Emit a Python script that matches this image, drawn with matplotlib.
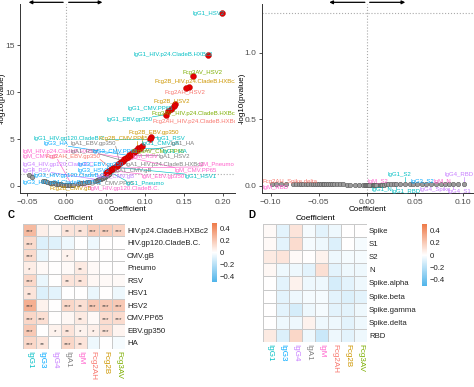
import numpy as np
import matplotlib
matplotlib.use('Agg')
import matplotlib.pyplot as plt
from matplotlib.colors import LinearSegmentedColormap, Normalize
from matplotlib.colorbar import ColorbarBase

plt.rcParams['font.family'] = ['Liberation Sans', 'DejaVu Sans']

# ---------------------------------------------------------------------------
# Data
# ---------------------------------------------------------------------------
ISOTYPES = ['IgG1', 'IgG3', 'IgG4', 'IgA1', 'IgM', 'Fcg2AH', 'Fcg2B', 'Fcg3AV']
ISO_COLORS = ['#00BFC4', '#00A9FF', '#C77CFF', '#7F7F7F', '#FF61CC',
              '#F8766D', '#CD9600', '#7CAE00']

ANTIGENS_C = ['HIV.p24.CladeB.HXBc2', 'HIV.gp120.CladeB.C.', 'CMV.gB', 'Pneumo',
              'RSV', 'HSV1', 'HSV2', 'CMV.PP65', 'EBV.gp350', 'HA']
ANTIGENS_D = ['Spike', 'S1', 'S2', 'N', 'Spike.alpha', 'Spike.beta',
              'Spike.gamma', 'Spike.delta', 'RBD']

# panel A: significant features (red)
sig_names = ['IgG1_HSV2', 'IgG1_HIV.p24.CladeB.HXBc2', 'Fcg3AV_HSV2',
             'Fcg2B_HIV.p24.CladeB.HXBc2', 'Fcg2AH_HSV2', 'Fcg2B_HSV2',
             'Fcg3AV_HIV.p24.CladeB.HXBc2', 'IgG1_CMV.PP65',
             'Fcg2AH_HIV.p24.CladeB.HXBc2', 'IgG1_EBV.gp350', 'IgG1_RSV',
             'IgG1_HIV.gp120.CladeB.C.',
             'IgG4_EBV.gp350', 'IgA1_CMV.gB', 'IgG1_Pneumo', 'IgM_EBV.gp350',
             'Fcg2AH_EBV.gp350', 'IgM_Pneumo', 'IgG1_HSV1', 'IgM_HA', 'IgM_HSV2',
             'IgA1_EBV.gp350', 'IgM_RSV', 'IgA1_RSV', 'IgA1_HIV.p24.CladeB.HXBc2',
             'IgM_HIV.p24.CladeB.HXBc2', 'IgM_CMV.PP65', 'IgG3_HA', 'IgA1_HSV2',
             'IgA1_HA', 'IgG3_CMV.PP65', 'Fcg3AV_CMV.PP65', 'Fcg2B_CMV.PP65',
             'IgG1_HA', 'IgG1_CMV.gB', 'Fcg2B_EBV.gp350']
sig_coef = [0.199, 0.180, 0.162, 0.157, 0.152, 0.139, 0.137, 0.133, 0.130, 0.127,
            0.108, 0.107,
            0.050, 0.052, 0.054, 0.056, 0.058, 0.060, 0.062, 0.064, 0.066, 0.068,
            0.070, 0.072, 0.074, 0.076, 0.078, 0.080, 0.082, 0.084, 0.086, 0.088,
            0.090, 0.092, 0.094, 0.096]
sig_nlp = [18.4, 14.0, 11.7, 10.6, 10.4, 8.7, 8.5, 8.2, 8.0, 7.6,
           5.2, 5.0,
           1.35, 1.45, 1.55, 1.65, 1.8, 1.9, 2.0, 2.15, 2.3, 2.4,
           2.55, 2.7, 2.85, 2.95, 3.1, 3.25, 3.35, 3.5, 3.6, 3.75,
           3.85, 4.0, 4.1, 4.3]

# panel A: non-significant features (grey)
ns_names = ['IgG3_HIV.gp120.CladeB.C.', 'IgG4_HIV.gp120.CladeB.C.', 'IgG3_HSV1',
            'IgG4_HSV1', 'Fcg2AH_HIV.gp120.CladeB.C.', 'IgA1_HIV.gp120.CladeB.C.',
            'IgG3_CMV.gB', 'Fcg3AV_HSV1', 'IgG3_RSV', 'Fcg2AH_HSV1', 'Fcg2AH_HA',
            'IgG4_HSV2', 'Fcg3AV_HA', 'IgG3_HIV.p24.CladeB.HXBc2',
            'IgG4_HIV.p24.CladeB.HXBc2', 'IgG4_CMV.gB', 'IgM_HIV.gp120.CladeB.C.',
            'Fcg2B_HIV.gp120.CladeB.C.', 'Fcg3AV_HIV.gp120.CladeB.C.', 'IgM_CMV.gB',
            'Fcg2AH_CMV.gB', 'Fcg2B_CMV.gB', 'Fcg3AV_CMV.gB', 'IgG3_Pneumo',
            'IgG4_Pneumo', 'IgA1_Pneumo', 'Fcg2AH_Pneumo', 'Fcg2B_Pneumo',
            'Fcg3AV_Pneumo', 'IgG4_RSV', 'Fcg2AH_RSV', 'Fcg2B_RSV', 'Fcg3AV_RSV',
            'IgA1_HSV1', 'IgM_HSV1', 'Fcg2B_HSV1', 'IgG3_HSV2', 'IgG4_CMV.PP65',
            'IgA1_CMV.PP65', 'Fcg2AH_CMV.PP65', 'IgG3_EBV.gp350',
            'Fcg3AV_EBV.gp350', 'IgG4_HA', 'Fcg2B_HA']
ns_coef = [-0.047, -0.044, -0.030, -0.027, -0.024, -0.021, -0.019, -0.017, -0.015,
           -0.013, -0.011, -0.009, -0.007, -0.005, -0.003, -0.001, 0.001, 0.003,
           0.005, 0.007, 0.009, 0.015, 0.018, 0.020, 0.023, 0.026, 0.029, 0.037,
           0.039, 0.041, 0.042, 0.043, 0.044, 0.045, 0.046, 0.047, 0.048, 0.049,
           0.050, 0.051, 0.052, 0.053, 0.054, 0.055]
ns_nlp = [1.15, 0.95, 0.55, 0.48, 0.42, 0.36, 0.33, 0.30, 0.27, 0.24, 0.21, 0.18,
          0.16, 0.14, 0.12, 0.10, 0.09, 0.10, 0.11, 0.12, 0.14, 0.24, 0.28, 0.30,
          0.34, 0.38, 0.43, 0.55, 0.60, 0.66, 0.70, 0.74, 0.78, 0.82, 0.86, 0.90,
          0.95, 1.00, 1.05, 1.10, 1.15, 1.20, 1.25, 1.28]

# panel A label placement (left edge x, y)
lab_a_names = ['IgG1_HSV2', 'IgG1_HIV.p24.CladeB.HXBc2', 'Fcg3AV_HSV2',
               'Fcg2B_HIV.p24.CladeB.HXBc2', 'Fcg2AH_HSV2', 'Fcg2B_HSV2',
               'IgG1_CMV.PP65', 'Fcg3AV_HIV.p24.CladeB.HXBc2',
               'Fcg2AH_HIV.p24.CladeB.HXBc2', 'IgG1_EBV.gp350', 'Fcg2B_EBV.gp350',
               'IgG1_HIV.gp120.CladeB.C.', 'Fcg2B_CMV.PP65', 'IgG1_RSV', 'IgG3_HA',
               'IgA1_EBV.gp350', 'IgG1_CMV.gB', 'IgA1_HA',
               'IgM_HIV.p24.CladeB.HXBc2', 'IgA1_RSV', 'IgG3_CMV.PP65',
               'Fcg3AV_CMV.PP65', 'IgG1_HA', 'IgM_CMV.gB', 'Fcg2AH_EBV.gp350',
               'IgM_RSV', 'IgA1_HSV2', 'IgG4_HIV.gp120.CladeB.C.', 'IgG3_EBV.gp350',
               'IgA1_HIV.p24.CladeB.HXBc2', 'IgM_Pneumo', 'IgG4_RSV', 'IgG3_HSV2',
               'IgA1_CMV.gB', 'IgM_CMV.PP65', 'IgG3_HIV.gp120.CladeB.C.',
               'IgG4_CMV.gB', 'IgM_EBV.gp350', 'IgG1_HSV1',
               'IgG3_HIV.p24.CladeB.HXBc2', 'IgA1_CMV.PP65', 'IgG1_Pneumo',
               'Fcg2B_CMV.gB', 'IgM_HIV.gp120.CladeB.C.']
lab_a_x = [0.161, 0.086, 0.148, 0.113, 0.125, 0.111, 0.078, 0.108, 0.110, 0.051,
           0.079, -0.042, 0.041, 0.115, -0.029, 0.005, 0.096, 0.133, -0.056, 0.005,
           0.034, 0.083, 0.123, -0.056, -0.027, 0.085, 0.117, -0.056, 0.014, 0.075,
           0.169, -0.056, 0.014, 0.062, 0.138, -0.042, 0.039, 0.096, 0.151, -0.056,
           0.030, 0.076, -0.022, 0.030]
lab_a_y = [18.4, 14.0, 12.1, 11.1, 10.0, 9.0, 8.3, 7.7, 6.9, 7.1,
           5.7, 5.1, 5.1, 5.1, 4.5, 4.5, 4.5, 4.5, 3.7, 3.7,
           3.7, 3.7, 3.7, 3.1, 3.1, 3.1, 3.1, 2.3, 2.3, 2.3,
           2.3, 1.7, 1.7, 1.7, 1.7, 1.1, 1.0, 1.0, 1.0, 0.4,
           0.3, 0.3, -0.3, -0.3]

# panel B: labelled points and the rest
cov_lab_names = ['Fcg2AH_Spike.delta', 'IgM_RBD', 'IgM_S2', 'IgG1_S2', 'IgG3_S2',
                 'IgM_N', 'IgG4_RBD', 'IgG1_N', 'IgG1_RBD', 'IgG4_Spike', 'IgG4_S1']
cov_lab_coef = [-0.084, -0.099, 0.002, 0.040, 0.052, 0.072, 0.101, 0.010, 0.030,
                0.062, 0.090]
cov_lab_nlp = [0.016, 0.018, 0.008, 0.014, 0.015, 0.016, 0.018, 0.009, 0.012,
               0.015, 0.017]
lab_b_x = [-0.108, -0.108, 0.001, 0.022, 0.045, 0.069, 0.081, 0.005, 0.026, 0.055,
           0.084]
lab_b_y = [0.030, -0.015, 0.030, 0.083, 0.030, 0.030, 0.083, -0.023, -0.045,
           -0.023, -0.045]
cov_coef = [-0.089, -0.077, -0.074, -0.071, -0.068, -0.066, -0.063, -0.061, -0.058,
            -0.056, -0.054, -0.052, -0.050, -0.048, -0.046, -0.044, -0.042, -0.040,
            -0.038, -0.036, -0.034, -0.031, -0.028, -0.025, -0.021, -0.017, -0.012,
            -0.008, -0.004, -0.002, -0.001, 0.000, 0.001, 0.003, 0.004, 0.005,
            0.006, 0.007, 0.008, 0.009, 0.011, 0.012, 0.013, 0.014, 0.015, 0.016,
            0.018, 0.020, 0.022, 0.025, 0.028, 0.035, 0.045, 0.048, 0.057, 0.067,
            0.077, 0.081, 0.085, 0.095, -0.094]
cov_nlp = [0.017, 0.016, 0.016, 0.016, 0.015, 0.015, 0.015, 0.015, 0.015,
           0.014, 0.014, 0.014, 0.014, 0.014, 0.013, 0.013, 0.013, 0.013,
           0.013, 0.012, 0.012, 0.012, 0.011, 0.011, 0.010, 0.010, 0.009,
           0.008, 0.007, 0.007, 0.006, 0.006, 0.006, 0.007, 0.007, 0.007,
           0.007, 0.008, 0.008, 0.008, 0.009, 0.009, 0.009, 0.009, 0.010, 0.010,
           0.010, 0.011, 0.011, 0.012, 0.012, 0.013, 0.014, 0.015, 0.015, 0.016,
           0.016, 0.017, 0.017, 0.018, 0.018]

# panel C: coefficient heatmap + significance
coef_c = [
    [0.26, 0.06, 0.02, 0.10, 0.10, 0.18, 0.18, 0.16],
    [0.14, -0.10, -0.09, -0.05, 0.00, -0.05, 0.00, 0.00],
    [0.14, -0.06, 0.00, 0.05, 0.00, 0.00, 0.00, 0.00],
    [0.07, 0.02, 0.00, 0.02, 0.08, 0.02, 0.00, 0.00],
    [0.15, -0.06, 0.00, 0.10, 0.10, 0.03, 0.02, 0.02],
    [0.10, -0.10, -0.08, 0.00, 0.00, -0.06, 0.00, -0.05],
    [0.30, 0.05, 0.00, 0.15, 0.12, 0.20, 0.20, 0.20],
    [0.15, 0.12, 0.00, 0.03, 0.08, 0.02, 0.13, 0.13],
    [0.20, 0.00, 0.05, 0.10, 0.05, 0.06, 0.12, 0.04],
    [0.15, 0.10, 0.00, 0.15, 0.10, -0.05, 0.00, -0.03],
]
stars_c = [
    ['***', '', '', '**', '**', '***', '***', '***'],
    ['***', '', '', '', '', '', '', ''],
    ['***', '', '', '*', '', '', '', ''],
    ['*', '', '', '', '**', '', '', ''],
    ['***', '', '', '**', '**', '', '', ''],
    ['**', '', '', '', '', '', '', ''],
    ['***', '', '', '***', '**', '***', '***', '***'],
    ['***', '***', '', '', '**', '', '***', '***'],
    ['***', '', '*', '**', '*', '*', '***', ''],
    ['***', '**', '', '***', '**', '', '', ''],
]

# panel D: coefficient heatmap
coef_d = [
    [0.02, -0.08, 0.10, -0.03, -0.08, -0.05, 0.00, 0.00],
    [0.02, -0.08, 0.13, -0.03, -0.05, -0.10, 0.00, -0.03],
    [0.08, 0.10, 0.02, 0.00, 0.05, -0.05, -0.03, -0.03],
    [0.03, -0.05, -0.05, -0.08, 0.12, -0.08, -0.05, -0.05],
    [0.00, -0.08, 0.05, -0.05, -0.05, -0.12, -0.08, -0.05],
    [0.00, -0.08, -0.05, -0.03, -0.03, -0.08, -0.10, -0.08],
    [0.00, -0.08, -0.12, -0.05, -0.03, -0.08, -0.08, -0.05],
    [0.00, -0.05, -0.05, 0.05, -0.05, -0.05, -0.08, -0.05],
    [0.08, -0.10, 0.15, -0.05, -0.15, -0.05, -0.08, -0.05],
]

# ---------------------------------------------------------------------------
# Helpers
# ---------------------------------------------------------------------------
CMAP = LinearSegmentedColormap.from_list('bwo', ['#4FB4EA', '#FFFFFF', '#EE7A48'])
NORM = Normalize(vmin=-0.5, vmax=0.5)
AX_COL = '#333333'
TICK_COL = '#4d4d4d'


def iso_color(name):
    return ISO_COLORS[ISOTYPES.index(name.split('_')[0])]


def style_volcano(ax, ylab_x):
    for s in ['top', 'right']:
        ax.spines[s].set_visible(False)
    for s in ['left', 'bottom']:
        ax.spines[s].set_color(AX_COL)
        ax.spines[s].set_linewidth(0.7)
    ax.tick_params(labelsize=6, colors=AX_COL, labelcolor=TICK_COL, length=2.5,
                   width=0.6, pad=1.5)
    ax.set_xlabel('Coefficient', fontsize=5.8, labelpad=0.5)
    ax.set_ylabel('-log10(pvalue)', fontsize=5.8)
    ax.yaxis.set_label_coords(ylab_x, 0.5)


def leader_lines(fig, ax, texts, pts):
    renderer = fig.canvas.get_renderer()
    inv = ax.transData.inverted()
    for txt, (px, py) in zip(texts, pts):
        bb = txt.get_window_extent(renderer)
        tx, ty = ax.transData.transform((px, py))
        cx = min(max(tx, bb.x0), bb.x1)
        cy = min(max(ty, bb.y0), bb.y1)
        if np.hypot(tx - cx, ty - cy) < 3:
            continue
        sx, sy = inv.transform((cx, cy))
        ax.plot([sx, px], [sy, py], color=txt.get_color(), lw=0.45, zorder=1.5)


def top_arrows(ax, left_span, right_span):
    for x0, x1 in (left_span, right_span):
        ax.annotate('', xy=(x1, 0.994), xytext=(x0, 0.994),
                    xycoords=('data', 'figure fraction'),
                    textcoords=('data', 'figure fraction'),
                    arrowprops=dict(arrowstyle='-|>', color='black', lw=0.9,
                                    mutation_scale=5, shrinkA=0, shrinkB=0),
                    annotation_clip=False)


def heatmap(fig, rect, values, rows, title, label, stars=None):
    ax = fig.add_axes(rect)
    vals = np.array(values)
    nr, nc = vals.shape
    ax.pcolormesh(np.arange(nc + 1), np.arange(nr + 1), vals, cmap=CMAP, norm=NORM,
                  edgecolors='#c9c9c9', linewidth=0.6)
    ax.set_xlim(0, nc)
    ax.set_ylim(nr, 0)
    if stars is not None:
        for i in range(nr):
            for j in range(nc):
                if stars[i][j]:
                    ax.text(j + 0.5, i + 0.62, stars[i][j], ha='center', va='center',
                            fontsize=4.6, color='#444444')
    ax.yaxis.tick_right()
    ax.set_yticks(np.arange(nr) + 0.5)
    ax.set_yticklabels(rows, fontsize=5.6, color='#222222')
    ax.set_xticks(np.arange(nc) + 0.5)
    ax.set_xticklabels(ISOTYPES, rotation=270, fontsize=5.8)
    for tl, c in zip(ax.get_xticklabels(), ISO_COLORS):
        tl.set_color(c)
    ax.tick_params(length=0, pad=1.5)
    for s in ax.spines.values():
        s.set_visible(False)
    ax.set_title(title, fontsize=6, pad=3)
    fig.text(rect[0] - 0.024, rect[1] + rect[3] + 0.022, label, fontsize=7,
             fontweight='bold', ha='center', va='center')
    return ax


def colorbar(fig, rect):
    cax = fig.add_axes(rect)
    cb = ColorbarBase(cax, cmap=CMAP, norm=NORM, ticks=[0.4, 0.2, 0, -0.2, -0.4])
    cb.outline.set_visible(False)
    cb.set_ticklabels(['0.4', '0.2', '0', '\u22120.2', '\u22120.4'])
    cax.tick_params(labelsize=5.6, length=0, pad=2, labelcolor='#222222')
    return cb


# ---------------------------------------------------------------------------
# Figure
# ---------------------------------------------------------------------------
fig = plt.figure(figsize=(4.74, 3.87), dpi=100)

# ---- Panel A: volcano (known antigens) -----------------------------------
axa = fig.add_axes([0.0422, 0.5013, 0.4536, 0.4884])
axa.set_xlim(-0.059, 0.215)
axa.set_ylim(-0.75, 19.4)
axa.axvline(0, color='#aaaaaa', ls=':', lw=0.8, zorder=0)
axa.axhline(-np.log10(0.05), color='#aaaaaa', ls=':', lw=0.8, zorder=0)
axa.scatter(ns_coef, ns_nlp, s=10, facecolor='#9c9c9c', edgecolor='#555555',
            linewidth=0.4, zorder=3)
axa.scatter(sig_coef, sig_nlp, s=18, facecolor='#E30000', edgecolor='#B00000',
            linewidth=0.3, zorder=4)
axa.set_xticks([-0.05, 0.0, 0.05, 0.10, 0.15, 0.20])
axa.set_xticklabels(['\u22120.05', '0.00', '0.05', '0.10', '0.15', '0.20'])
axa.set_yticks([0, 5, 10, 15])
style_volcano(axa, -0.065)

all_pts = dict(zip(sig_names + ns_names,
                   zip(sig_coef + ns_coef, sig_nlp + ns_nlp)))
texts_a = []
for name, lx, ly in zip(lab_a_names, lab_a_x, lab_a_y):
    texts_a.append(axa.text(lx, ly, name, fontsize=4.3, color=iso_color(name),
                            ha='left', va='center', zorder=5, clip_on=True))
fig.canvas.draw()
leader_lines(fig, axa, texts_a, [all_pts[n] for n in lab_a_names])
top_arrows(axa, (-0.004, -0.048), (0.003, 0.046))

# ---- Panel B: volcano (SARS-CoV-2 antigens) ------------------------------
axb = fig.add_axes([0.5527, 0.5013, 0.4473, 0.4884])
axb.set_xlim(-0.109, 0.1115)
axb.set_ylim(-0.053, 1.368)
axb.axvline(0, color='#aaaaaa', ls=':', lw=0.8, zorder=0)
axb.axhline(-np.log10(0.05), color='#aaaaaa', ls=':', lw=0.8, zorder=0)
axb.scatter(cov_coef + cov_lab_coef, cov_nlp + cov_lab_nlp, s=10,
            facecolor='#9c9c9c', edgecolor='#555555', linewidth=0.4, zorder=3)
axb.set_xticks([-0.10, -0.05, 0.0, 0.05, 0.10])
axb.set_xticklabels(['\u22120.10', '\u22120.05', '0.00', '0.05', '0.10'])
axb.set_yticks([0.0, 0.5, 1.0])
style_volcano(axb, -0.075)

texts_b = []
for name, lx, ly in zip(cov_lab_names, lab_b_x, lab_b_y):
    texts_b.append(axb.text(lx, ly, name, fontsize=4.3, color=iso_color(name),
                            ha='left', va='center', zorder=5))
fig.canvas.draw()
leader_lines(fig, axb, texts_b, list(zip(cov_lab_coef, cov_lab_nlp)))
top_arrows(axb, (-0.002, -0.039), (0.003, 0.040))

# ---- Panels C and D: heatmaps --------------------------------------------
heatmap(fig, [0.0485, 0.0982, 0.2152, 0.323], coef_c, ANTIGENS_C,
        'Coefficient', 'C', stars=stars_c)
colorbar(fig, [0.4473, 0.2713, 0.0095, 0.1525])

heatmap(fig, [0.5549, 0.1163, 0.2194, 0.3049], coef_d, ANTIGENS_D,
        'Coefficient', 'D')
colorbar(fig, [0.8903, 0.2610, 0.0095, 0.160])

fig.savefig('out.png', dpi=100)
